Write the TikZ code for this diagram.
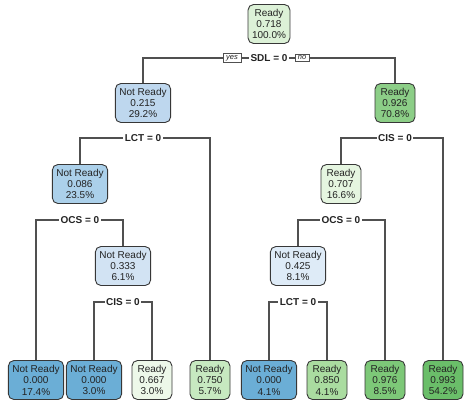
\documentclass[tikz,border=0pt]{standalone}
\usepackage{fontspec}
\setmainfont{Liberation Sans}
\usetikzlibrary{backgrounds}
\definecolor{bordc}{RGB}{55,55,55}
\definecolor{linec}{RGB}{80,80,80}
\definecolor{textc}{RGB}{35,35,35}
\definecolor{nA}{RGB}{107,174,214}
\definecolor{nB}{RGB}{171,208,234}
\definecolor{nC}{RGB}{190,215,238}
\definecolor{nD}{RGB}{210,227,243}
\definecolor{nE}{RGB}{222,235,247}
\definecolor{gA}{RGB}{237,248,233}
\definecolor{gB}{RGB}{229,245,224}
\definecolor{gC}{RGB}{220,241,215}
\definecolor{gD}{RGB}{199,233,192}
\definecolor{gE}{RGB}{170,220,160}
\definecolor{gF}{RGB}{140,206,135}
\definecolor{gG}{RGB}{125,200,120}
\definecolor{gH}{RGB}{106,190,105}
\begin{document}
\begin{tikzpicture}[x=1pt,y=-1pt,
  treenode/.style={draw=bordc, line width=0.9pt, rounded corners=5.5pt, align=center,
    font=\fontsize{10}{11.4}\selectfont, inner xsep=4pt, inner ysep=2pt,
    minimum width=40pt, minimum height=39pt, text=textc},
  splitlbl/.style={fill=white, font=\bfseries\fontsize{10}{11}\selectfont,
    inner xsep=1.5pt, inner ysep=1pt, text=textc},
  yn/.style={draw=linec, fill=white, font=\itshape\fontsize{7.5}{8.5}\selectfont,
    inner xsep=3pt, inner ysep=1.5pt, line width=0.6pt, text=textc},
  edge/.style={draw=linec, line width=1.1pt}]
\useasboundingbox (0,0) rectangle (474,408);
% internal nodes
\node[treenode, fill=gC] (n1) at (269,24) {Ready\\0.718\\100.0\%};
\node[treenode, fill=nC] (n2) at (143,103) {Not Ready\\0.215\\29.2\%};
\node[treenode, fill=gF] (n3) at (395,103) {Ready\\0.926\\70.8\%};
\node[treenode, fill=nB] (n4) at (80,184) {Not Ready\\0.086\\23.5\%};
\node[treenode, fill=gB] (n5) at (341,184) {Ready\\0.707\\16.6\%};
\node[treenode, fill=nD] (n6) at (123,266) {Not Ready\\0.333\\6.1\%};
\node[treenode, fill=nE] (n7) at (298,266) {Not Ready\\0.425\\8.1\%};
% leaves
\node[treenode, fill=nA] (l1) at (36,380) {Not Ready\\0.000\\17.4\%};
\node[treenode, fill=nA] (l2) at (94,380) {Not Ready\\0.000\\3.0\%};
\node[treenode, fill=gA] (l3) at (152,380) {Ready\\0.667\\3.0\%};
\node[treenode, fill=gD] (l4) at (210,380) {Ready\\0.750\\5.7\%};
\node[treenode, fill=nA] (l5) at (269,380) {Not Ready\\0.000\\4.1\%};
\node[treenode, fill=gE] (l6) at (327,380) {Ready\\0.850\\4.1\%};
\node[treenode, fill=gG] (l7) at (385,380) {Ready\\0.976\\8.5\%};
\node[treenode, fill=gH] (l8) at (443,380) {Ready\\0.993\\54.2\%};
% split labels
\node[splitlbl] (s1) at (269,58) {SDL = 0};
\node[yn] (yes) at (232,58) {yes};
\node[yn] (no) at (302,58) {no};
\node[splitlbl] (s2) at (143,138) {LCT = 0};
\node[splitlbl] (s3) at (395,138) {CIS = 0};
\node[splitlbl] (s4) at (80,220) {OCS = 0};
\node[splitlbl] (s5) at (341,220) {OCS = 0};
\node[splitlbl] (s6) at (123,302) {CIS = 0};
\node[splitlbl] (s7) at (298,302) {LCT = 0};
\begin{scope}[on background layer]
\draw[edge] (s1.center) -| (n2.north);
\draw[edge] (s1.center) -| (n3.north);
\draw[edge] (s2.center) -| (n4.north);
\draw[edge] (s2.center) -| (l4.north);
\draw[edge] (s3.center) -| (n5.north);
\draw[edge] (s3.center) -| (l8.north);
\draw[edge] (s4.center) -| (l1.north);
\draw[edge] (s4.center) -| (n6.north);
\draw[edge] (s5.center) -| (n7.north);
\draw[edge] (s5.center) -| (l7.north);
\draw[edge] (s6.center) -| (l2.north);
\draw[edge] (s6.center) -| (l3.north);
\draw[edge] (s7.center) -| (l5.north);
\draw[edge] (s7.center) -| (l6.north);
\end{scope}
\end{tikzpicture}
\end{document}
